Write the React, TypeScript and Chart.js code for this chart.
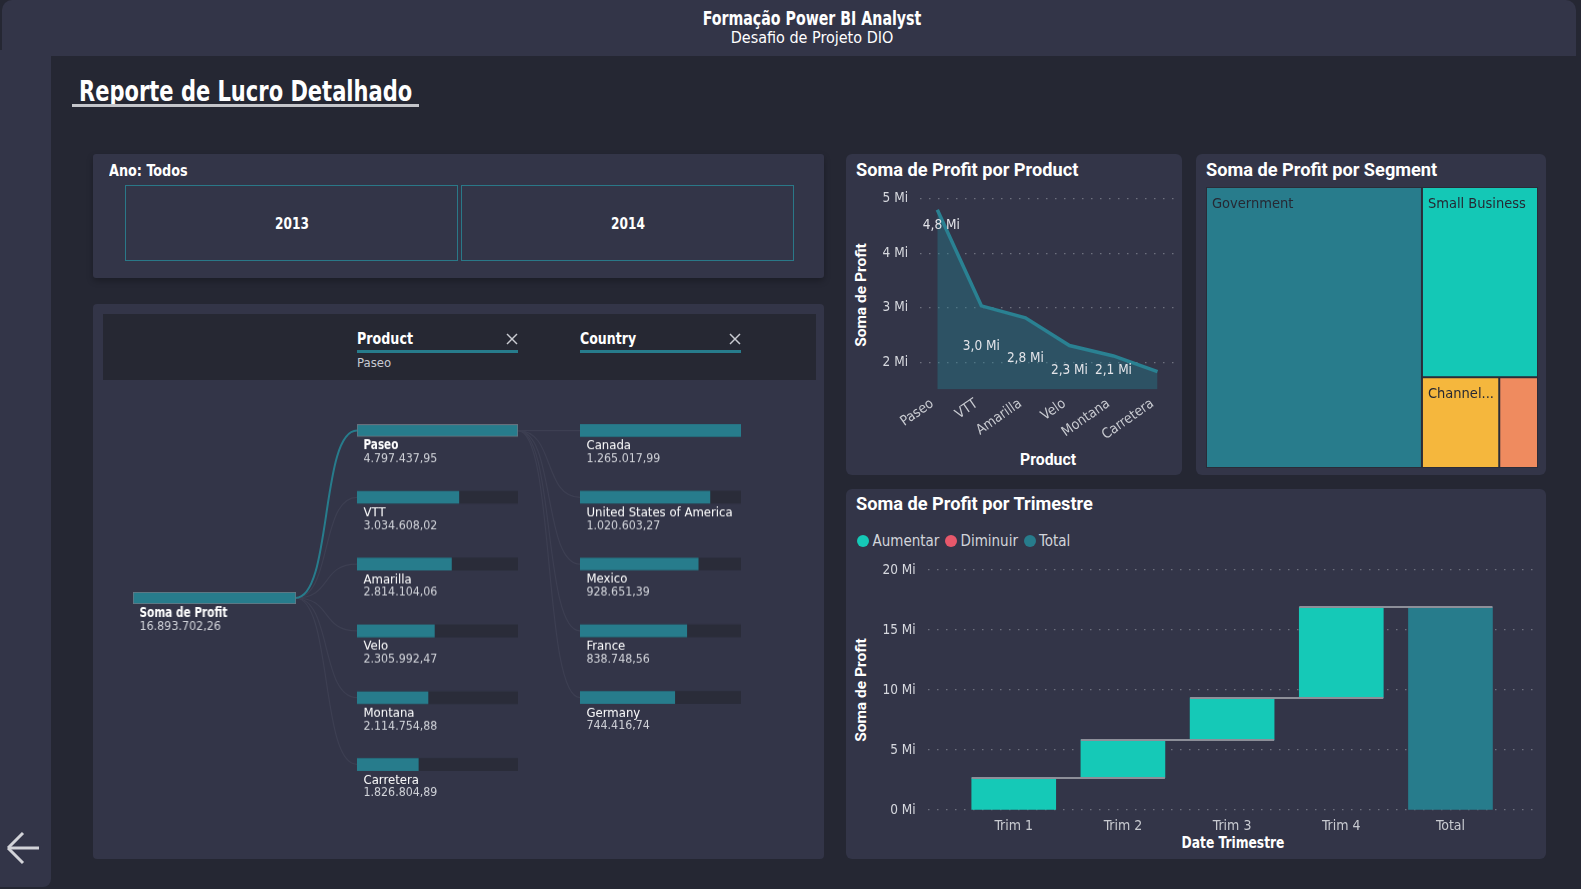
import React, { useEffect, useRef } from "react";
import { Chart, registerables } from "chart.js";
Chart.register(...registerables);

// ---------------- data ----------------
const years = ["2013", "2014"];
const products = ["Paseo", "VTT", "Amarilla", "Velo", "Montana", "Carretera"];
const productProfit = [4797437.95, 3034608.02, 2814104.06, 2305992.47, 2114754.88, 1826804.89];
const countries = ["Canada", "United States of America", "Mexico", "France", "Germany"];
const countryProfitPaseo = [1265017.99, 1020603.27, 928651.39, 838748.56, 744416.74];
const rootLabel = "Soma de Profit";
const totalProfit = 16893702.26;
const segments = ["Government", "Small Business", "Channel Partners", "Midmarket"];
const segmentProfit = [11388173.22, 4143168.5, 1316803.14, 660103.44];
const quarters = ["Trim 1", "Trim 2", "Trim 3", "Trim 4"];
const quarterProfit = [2690000, 3160000, 3510000, 7533702.26];
const totalLabel = "Total";
const legendItems = ["Aumentar", "Diminuir", "Total"];
const lineTicks = [2, 3, 4, 5];
const waterfallTicks = [0, 5, 10, 15, 20];

// ---------------- style ----------------
const DIN = "'DejaVu Sans Condensed', 'Liberation Sans Narrow', Roboto, sans-serif";
const SEG = "Roboto, Lato, 'Open Sans', sans-serif";
const PAGE = "#252733";
const PANEL = "#333548";
const BAND = "#262833";
const TEAL = "#277C8C";
const TURQ = "#15C9B7";
const RED = "#E8586B";
const TRACK = "#2A2C39";
const SUB = "#C8CAD2";
const GRID = "#6e717e";
const segColors = ["#287C8C", "#14C8B6", "#F5B73D", "#EF8B5F"];

const fmtBR = (v: number) => {
  const [i, d] = v.toFixed(2).split(".");
  return i.replace(/\B(?=(\d{3})+(?!\d))/g, ".") + "," + d;
};
const fmtMi1 = (v: number) => (v / 1e6).toFixed(1).replace(".", ",") + " Mi";

// ---------------- helpers ----------------
function ChartCanvas({ left, top, width, height, make }: any) {
  const ref = useRef<HTMLCanvasElement>(null);
  useEffect(() => {
    const chart = new Chart(ref.current as HTMLCanvasElement, make());
    return () => chart.destroy();
  }, []);
  return (
    <canvas
      ref={ref}
      width={width}
      height={height}
      style={{ position: "absolute", left, top, width, height }}
    />
  );
}

function T({ x, y, size = 14, bold = false, color = "#fff", family = DIN, anchor = "start", rotate = 0, sx = 1, children }: any) {
  const tx = anchor === "middle" ? "-50%" : anchor === "end" ? "-100%" : "0";
  const origin = anchor === "middle" ? "center center" : anchor === "end" ? "right center" : "left center";
  return (
    <div
      style={{
        position: "absolute",
        left: x,
        top: y,
        transform: `translate(${tx}, -50%)`,
        fontSize: size,
        fontWeight: bold ? 700 : 400,
        color,
        fontFamily: family,
        lineHeight: 1,
        whiteSpace: "nowrap",
      }}
    >
      <div style={{ transform: (rotate ? `rotate(${rotate}deg) ` : "") + `scaleX(${sx})`, transformOrigin: origin }}>
        {children}
      </div>
    </div>
  );
}

function Box({ left, top, width, height, bg = PANEL, radius = 6, style = {} }: any) {
  return (
    <div
      style={{ position: "absolute", left, top, width, height, background: bg, borderRadius: radius, ...style }}
    />
  );
}

function XIcon({ cx, cy }: any) {
  return (
    <svg style={{ position: "absolute", left: cx - 6, top: cy - 6 }} width={12} height={12}>
      <line x1={1} y1={1} x2={11} y2={11} stroke="#c9cbd2" strokeWidth={1.5} />
      <line x1={11} y1={1} x2={1} y2={11} stroke="#c9cbd2" strokeWidth={1.5} />
    </svg>
  );
}

// ---------------- decomposition tree ----------------
const SLOT = 66.75;
const TREE_TOP = 397.2;
const LABEL_PAD = 24;

function decompConfig(labels: string[], values: number[], selected: number) {
  const max = Math.max(...values);
  const labelPlugin = {
    id: "nodeLabels",
    afterDatasetsDraw(chart: any) {
      const { ctx } = chart;
      const meta = chart.getDatasetMeta(0);
      const x0 = chart.scales.x.getPixelForValue(0);
      ctx.save();
      ctx.textBaseline = "middle";
      meta.data.forEach((el: any, i: number) => {
        ctx.fillStyle = "#ffffff";
        if (i === selected) {
          ctx.save();
          ctx.font = `bold 13.5px ${DIN}`;
          ctx.translate(x0 + 6.5, el.y + 15.5);
          ctx.scale(0.86, 1);
          ctx.fillText(labels[i], 0, 0);
          ctx.restore();
        } else {
          ctx.font = `13px ${DIN}`;
          ctx.fillText(labels[i], x0 + 6.5, el.y + 15.5);
        }
        ctx.fillStyle = "#d2d4da";
        ctx.font = `12.3px ${DIN}`;
        ctx.fillText(fmtBR(values[i]), x0 + 6.5, el.y + 28.5);
      });
      ctx.restore();
    },
  };
  return () => ({
    type: "bar",
    data: {
      labels,
      datasets: [
        {
          data: values,
          backgroundColor: TEAL,
          borderColor: "#6f7783",
          borderWidth: values.map((_, i) => (i === selected ? 1 : 0)),
          borderSkipped: false,
          barThickness: 12,
          grouped: false,
        },
        {
          data: values.map(() => max),
          backgroundColor: TRACK,
          barThickness: 12,
          grouped: false,
        },
      ],
    },
    options: {
      indexAxis: "y",
      animation: false,
      responsive: false,
      layout: { padding: { bottom: LABEL_PAD } },
      plugins: { legend: { display: false }, tooltip: { enabled: false } },
      scales: {
        x: { display: false, min: 0, max },
        y: { display: false },
      },
    },
    plugins: [labelPlugin],
  });
}

// ---------------- line chart ----------------
const lineMake = () => {
  const maxV = Math.max(...productProfit);
  const labelPlugin = {
    id: "lineLabels",
    afterDatasetsDraw(chart: any) {
      const { ctx, chartArea } = chart;
      const meta = chart.getDatasetMeta(0);
      ctx.save();
      ctx.font = `13.5px ${DIN}`;
      ctx.fillStyle = "#e2e3e8";
      ctx.textAlign = "center";
      ctx.textBaseline = "middle";
      meta.data.forEach((pt: any, i: number) => {
        if (i === productProfit.length - 1) return;
        const v = productProfit[i];
        const isMax = v === maxV;
        const y = isMax ? pt.y + 16 : Math.min(pt.y + 41, chartArea.bottom - 19);
        ctx.fillText(fmtMi1(v), pt.x + (isMax ? 4 : 0), y);
      });
      ctx.restore();
    },
  };
  return {
    type: "line",
    data: {
      datasets: [
        {
          data: products.map((_, i) => ({ x: i, y: productProfit[i] / 1e6 })),
          borderColor: "#2A8192",
          borderWidth: 3.5,
          fill: "start",
          backgroundColor: "rgba(39,124,140,0.42)",
          pointRadius: 0,
          tension: 0,
        },
      ],
    },
    options: {
      animation: false,
      responsive: false,
      layout: { padding: { top: 11.5, right: 7, left: 0, bottom: 0 } },
      plugins: { legend: { display: false }, tooltip: { enabled: false } },
      scales: {
        x: {
          type: "linear",
          min: -0.393,
          max: 5.397,
          offset: false,
          afterBuildTicks: (s: any) => {
            s.ticks = products.map((_, i) => ({ value: i }));
          },
          afterFit: (s: any) => {
            s.height = 85.6;
          },
          ticks: {
            autoSkip: false,
            minRotation: 35,
            maxRotation: 35,
            padding: -2,
            labelOffset: -5,
            color: "#c8cad0",
            font: { family: DIN, size: 14 },
            callback: (v: any) => products[v],
          },
          grid: { display: false },
          border: { display: false },
        },
        y: {
          min: 1.5,
          max: 5.05,
          afterBuildTicks: (s: any) => {
            s.ticks = lineTicks.map((v) => ({ value: v }));
          },
          afterFit: (s: any) => {
            s.width = 74;
          },
          ticks: {
            padding: 12,
            color: "#d6d8de",
            font: { family: DIN, size: 13.5 },
            callback: (v: any) => v + " Mi",
          },
          grid: { color: GRID, lineWidth: 1.3, drawTicks: false },
          border: { display: false, dash: [1.5, 7.5] },
        },
      },
    },
    plugins: [labelPlugin],
  };
};

// ---------------- waterfall ----------------
const waterfallMake = () => {
  const starts: number[] = [];
  let acc = 0;
  quarterProfit.forEach((v) => {
    starts.push(acc);
    acc += v;
  });
  const ends = quarterProfit.map((v, i) => starts[i] + v);
  const total = acc;
  const bars = [
    ...quarterProfit.map((_, i) => ({ x: i, y: [starts[i] / 1e6, ends[i] / 1e6] })),
    { x: quarterProfit.length, y: [0, total / 1e6] },
  ];
  const levels = [...ends, total];
  const xLabels = [...quarters, totalLabel];
  const connectorPlugin = {
    id: "connectors",
    afterDatasetsDraw(chart: any) {
      const { ctx } = chart;
      const meta = chart.getDatasetMeta(0);
      const ys = chart.scales.y;
      ctx.save();
      ctx.strokeStyle = "#8d8f99";
      ctx.lineWidth = 2;
      for (let i = 0; i < meta.data.length - 1; i++) {
        const a = meta.data[i];
        const b = meta.data[i + 1];
        const y = Math.round(ys.getPixelForValue(levels[i] / 1e6));
        ctx.beginPath();
        ctx.moveTo(a.x - a.width / 2, y);
        ctx.lineTo(b.x + b.width / 2, y);
        ctx.stroke();
      }
      ctx.restore();
    },
  };
  return {
    type: "bar",
    data: {
      datasets: [
        {
          data: bars,
          backgroundColor: bars.map((_, i) => (i < quarterProfit.length ? TURQ : TEAL)),
          barThickness: 84,
          borderSkipped: false,
        },
      ],
    },
    options: {
      animation: false,
      responsive: false,
      layout: { padding: { top: 8.7, right: 6, left: 0, bottom: 0 } },
      plugins: { legend: { display: false }, tooltip: { enabled: false } },
      scales: {
        x: {
          type: "linear",
          min: -0.788,
          max: 4.82,
          offset: false,
          afterBuildTicks: (s: any) => {
            s.ticks = xLabels.map((_, i) => ({ value: i }));
          },
          afterFit: (s: any) => {
            s.height = 49;
          },
          ticks: {
            autoSkip: false,
            maxRotation: 0,
            padding: 0,
            color: "#c8cad0",
            font: { family: DIN, size: 14 },
            callback: (v: any) => xLabels[v],
          },
          grid: { display: false },
          border: { display: false },
        },
        y: {
          min: 0,
          max: 20,
          afterBuildTicks: (s: any) => {
            s.ticks = waterfallTicks.map((v) => ({ value: v }));
          },
          afterFit: (s: any) => {
            s.width = 81.7;
          },
          ticks: {
            padding: 12,
            color: "#d6d8de",
            font: { family: DIN, size: 13.5 },
            callback: (v: any) => v + " Mi",
          },
          grid: { color: GRID, lineWidth: 1.3, drawTicks: false },
          border: { display: false, dash: [1.5, 7.5] },
        },
      },
    },
    plugins: [connectorPlugin],
  };
};

// ---------------- treemap ----------------
const treemapMake = () => {
  const plugin = {
    id: "treemap",
    afterDatasetsDraw(chart: any) {
      const { ctx, chartArea } = chart;
      const xs = chart.scales.x;
      const ys = chart.scales.y;
      const pw = chartArea.right - chartArea.left;
      const ph = chartArea.bottom - chartArea.top;
      ctx.save();
      ctx.fillStyle = "#2A2C38";
      ctx.fillRect(chartArea.left, chartArea.top, pw, ph);
      let rx = 0, ry = 0, rw = 1, rh = 1;
      let remaining = segmentProfit.reduce((a, b) => a + b, 0);
      segments.forEach((name, i) => {
        const v = segmentProfit[i];
        const f = v / remaining;
        let cell;
        if (rw * pw >= rh * ph) {
          cell = { x: rx, y: ry, w: rw * f, h: rh };
          rx += rw * f;
          rw -= rw * f;
        } else {
          cell = { x: rx, y: ry, w: rw, h: rh * f };
          ry += rh * f;
          rh -= rh * f;
        }
        remaining -= v;
        const x0 = xs.getPixelForValue(cell.x);
        const x1 = xs.getPixelForValue(cell.x + cell.w);
        const y0 = ys.getPixelForValue(cell.y);
        const y1 = ys.getPixelForValue(cell.y + cell.h);
        ctx.fillStyle = segColors[i];
        ctx.fillRect(x0 + 1, y0 + 1, x1 - x0 - 2, y1 - y0 - 2);
        ctx.font = `14.5px ${DIN}`;
        ctx.fillStyle = "#262833";
        ctx.textBaseline = "middle";
        const avail = x1 - x0 - 10;
        let txt = name;
        if (ctx.measureText(txt).width > avail) {
          let n = name.length;
          while (n > 0 && ctx.measureText(name.slice(0, n) + "...").width > avail) n--;
          txt = n >= 4 ? name.slice(0, n) + "..." : "";
        }
        if (txt) ctx.fillText(txt, x0 + 6, y0 + 17);
      });
      ctx.restore();
    },
  };
  return {
    type: "scatter",
    data: { datasets: [{ data: [] }] },
    options: {
      animation: false,
      responsive: false,
      layout: { padding: 0 },
      plugins: { legend: { display: false }, tooltip: { enabled: false } },
      scales: {
        x: { type: "linear", min: 0, max: 1, display: false },
        y: { type: "linear", min: 0, max: 1, reverse: true, display: false },
      },
    },
    plugins: [plugin],
  };
};

// ---------------- connectors (tree links) ----------------
function TreeLinks() {
  const cy = (i: number) => TREE_TOP + SLOT * (i + 0.5);
  const rootY = 564.6 + SLOT / 2;
  const rootX = 295.5;
  const prodL = 357;
  const prodR = 518;
  const ctryL = 580;
  const curve = (x0: number, y0: number, x1: number, y1: number) => {
    const m = (x1 - x0) * 0.6;
    return `M ${x0} ${y0} C ${x0 + m} ${y0}, ${x1 - m} ${y1}, ${x1} ${y1}`;
  };
  return (
    <svg style={{ position: "absolute", left: 0, top: 0 }} width={1581} height={889}>
      {products.map((_, i) =>
        i === 0 ? null : (
          <path key={"p" + i} d={curve(rootX, rootY, prodL, cy(i))} stroke="#3d3f52" strokeWidth={1.2} fill="none" />
        )
      )}
      {countries.map((_, j) => (
        <path key={"c" + j} d={curve(prodR, cy(0), ctryL, cy(j))} stroke="#3d3f52" strokeWidth={1.2} fill="none" />
      ))}
      <path d={curve(rootX, rootY, prodL, cy(0))} stroke={TEAL} strokeWidth={2} fill="none" />
    </svg>
  );
}

// ---------------- app ----------------
export default function App() {
  return (
    <div
      style={{
        position: "fixed",
        left: 0,
        top: 0,
        width: 1581,
        height: 889,
        background: PAGE,
        overflow: "hidden",
        fontFamily: DIN,
      }}
    >
      {/* header + sidebar */}
      <Box left={2} top={0} width={1574} height={56} radius="10px 10px 0 0" />
      <Box left={0} top={50} width={51} height={837} radius="0 0 8px 0" />
      <T x={812} y={18} size={19} bold anchor="middle" sx={0.83}>Formação Power BI Analyst</T>
      <T x={812} y={37.5} size={16} anchor="middle">Desafio de Projeto DIO</T>
      <svg style={{ position: "absolute", left: 0, top: 825 }} width={50} height={45}>
        <line x1={8} y1={23} x2={39} y2={23} stroke="#d2d3d8" strokeWidth={3} />
        <line x1={8} y1={23} x2={23} y2={8} stroke="#d2d3d8" strokeWidth={3} />
        <line x1={8} y1={23} x2={23} y2={38} stroke="#d2d3d8" strokeWidth={3} />
      </svg>

      {/* page title */}
      <T x={78.5} y={92} size={28} bold sx={0.834}>Reporte de Lucro Detalhado</T>
      <Box left={71.5} top={103.5} width={347} height={3} bg="#c4c5ca" radius={0} />

      {/* year slicer */}
      <Box left={93} top={154} width={731} height={124} radius={3} style={{ boxShadow: "0 3px 6px rgba(0,0,0,0.25)" }} />
      <T x={109} y={170.5} size={15} bold sx={0.95}>Ano: Todos</T>
      {years.map((y, i) => (
        <div
          key={y}
          style={{
            position: "absolute",
            left: 125 + i * 336,
            top: 185,
            width: 333,
            height: 76,
            border: "1px solid #2A7888",
            boxSizing: "border-box",
          }}
        />
      ))}
      {years.map((y, i) => (
        <T key={"t" + y} x={291.5 + i * 336} y={224} size={15} bold anchor="middle" sx={0.9}>{y}</T>
      ))}

      {/* decomposition tree */}
      <Box left={93} top={303.5} width={731} height={555} radius={4} />
      <Box left={103} top={313.5} width={713} height={66.5} bg={BAND} radius={0} />
      <T x={357} y={339} size={15} bold sx={0.94}>Product</T>
      <XIcon cx={512} cy={339} />
      <Box left={357} top={349.5} width={161} height={3} bg={TEAL} radius={0} />
      <T x={357} y={362} size={13} color={SUB}>{products[0]}</T>
      <T x={580} y={339} size={15} bold sx={0.93}>Country</T>
      <XIcon cx={735} cy={339} />
      <Box left={580} top={349.5} width={161} height={3} bg={TEAL} radius={0} />
      <TreeLinks />
      <ChartCanvas
        left={133}
        top={564.6}
        width={162.5}
        height={SLOT + LABEL_PAD}
        make={decompConfig([rootLabel], [totalProfit], 0)}
      />
      <ChartCanvas
        left={357}
        top={TREE_TOP}
        width={161}
        height={SLOT * products.length + LABEL_PAD}
        make={decompConfig(products, productProfit, 0)}
      />
      <ChartCanvas
        left={580}
        top={TREE_TOP}
        width={161}
        height={SLOT * countries.length + LABEL_PAD}
        make={decompConfig(countries, countryProfitPaseo, -1)}
      />

      {/* line chart */}
      <Box left={846} top={154} width={336} height={321} />
      <T x={856} y={169.5} size={18.2} bold family={SEG}>Soma de Profit por Product</T>
      <T x={862} y={294.5} size={15.5} bold family={SEG} anchor="middle" rotate={-90}>Soma de Profit</T>
      <T x={1048} y={460} size={15.8} bold family={SEG} anchor="middle">Product</T>
      <ChartCanvas left={846} top={175.5} width={336} height={299.5} make={lineMake} />

      {/* treemap */}
      <Box left={1196} top={154} width={350} height={321} />
      <T x={1206} y={170} size={18.2} bold family={SEG}>Soma de Profit por Segment</T>
      <ChartCanvas left={1206} top={187} width={332} height={281} make={treemapMake} />

      {/* waterfall */}
      <Box left={846} top={489} width={700} height={370} />
      <T x={856} y={504} size={18.2} bold family={SEG}>Soma de Profit por Trimestre</T>
      {legendItems.map((name, i) => {
        const cx = [863, 951, 1029.5][i];
        const col = [TURQ, RED, TEAL][i];
        return (
          <React.Fragment key={name}>
            <div
              style={{
                position: "absolute",
                left: cx - 6,
                top: 540.5 - 6,
                width: 12,
                height: 12,
                borderRadius: 6,
                background: col,
              }}
            />
            <T x={cx + 9.5} y={540.5} size={15} color="#d2d4da">{name}</T>
          </React.Fragment>
        );
      })}
      <T x={862} y={690} size={15.5} bold family={SEG} anchor="middle" rotate={-90}>Soma de Profit</T>
      <T x={1233} y={843} size={15} bold anchor="middle" sx={0.91}>Date Trimestre</T>
      <ChartCanvas left={846} top={550} width={700} height={309} make={waterfallMake} />
    </div>
  );
}
